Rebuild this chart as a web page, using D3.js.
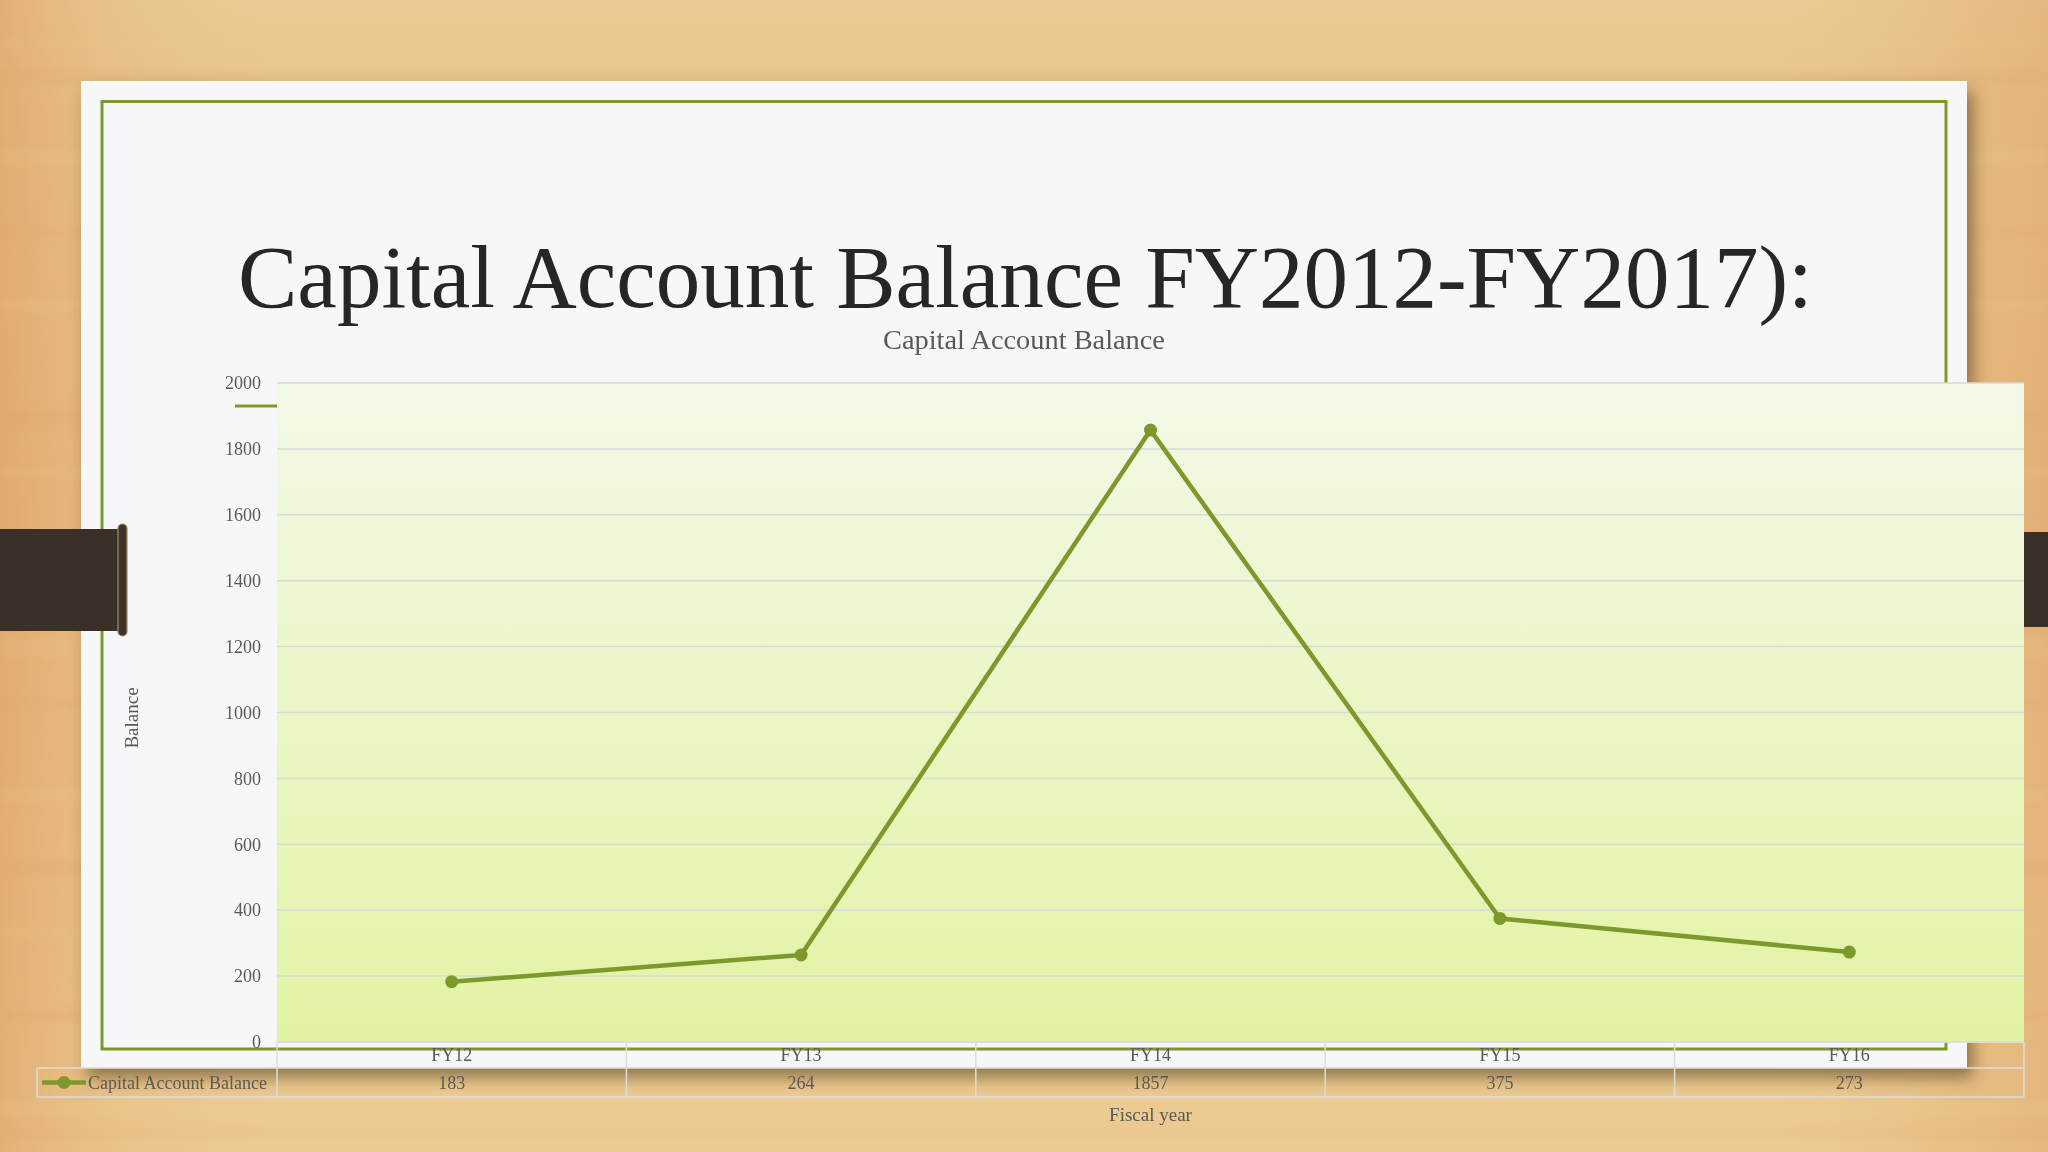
<!DOCTYPE html>
<html>
<head>
<meta charset="utf-8">
<script src="https://cdn.jsdelivr.net/npm/d3@7"></script>
<style>
html,body{margin:0;padding:0;overflow:hidden;background:#e8c58e;}
svg{display:block;}
</style>
</head>
<body>
<svg id="chart" width="2048" height="1152"></svg>
<script>
// ---- data ----
const categories = ["FY12", "FY13", "FY14", "FY15", "FY16"];
const balance = [183, 264, 1857, 375, 273];
const yTicks = [0, 200, 400, 600, 800, 1000, 1200, 1400, 1600, 1800, 2000];
const seriesName = "Capital Account Balance";
const slideTitle = "Capital Account Balance FY2012-FY2017):";
const chartTitle = "Capital Account Balance";
const yTitle = "Balance";
const xTitle = "Fiscal year";

// ---- layout ----
const W = 2048, H = 1152;
const plot = {x0: 277, x1: 2024, y0: 383, y1: 1042};
const row1 = 1068, row2 = 1097, legendX0 = 37;
const green = "#7d982b";
const serif = "'Liberation Serif','DejaVu Serif',serif";
const textGray = "#595959";

const svg = d3.select("#chart");
const defs = svg.append("defs");

// wood background gradients
const g1 = defs.append("linearGradient").attr("id","woodV").attr("x1",0).attr("y1",0).attr("x2",0).attr("y2",1);
[["0%","#eacb95"],["10%","#e7c48c"],["45%","#e8bd84"],["75%","#ebc58d"],["100%","#eccb92"]]
  .forEach(([o,c])=>g1.append("stop").attr("offset",o).attr("stop-color",c));
const g2 = defs.append("linearGradient").attr("id","woodH").attr("x1",0).attr("y1",0).attr("x2",1).attr("y2",0);
[["0%","#dc9a5c",0.55],["5%","#e2ab70",0.3],["14%","#e8c08a",0],["86%","#e8c08a",0],["95%","#e0a86c",0.3],["100%","#dca066",0.45]]
  .forEach(([o,c,a])=>g2.append("stop").attr("offset",o).attr("stop-color",c).attr("stop-opacity",a));
const plotGrad = defs.append("linearGradient").attr("id","plotG").attr("x1",0).attr("y1",0).attr("x2",0).attr("y2",1);
plotGrad.append("stop").attr("offset","0%").attr("stop-color","#f3f9e8");
plotGrad.append("stop").attr("offset","100%").attr("stop-color","#e2f3a3");
const sh = defs.append("filter").attr("id","shadow").attr("x","-5%").attr("y","-5%").attr("width","110%").attr("height","120%");
sh.append("feDropShadow").attr("dx",6).attr("dy",10).attr("stdDeviation",8).attr("flood-color","#4a3418").attr("flood-opacity",0.55);
const blur = defs.append("filter").attr("id","soft");
blur.append("feGaussianBlur").attr("stdDeviation",3);

svg.append("rect").attr("width",W).attr("height",H).attr("fill","url(#woodV)");
svg.append("rect").attr("width",W).attr("height",H).attr("fill","url(#woodH)");
// subtle wood grain streaks
const streaks = [40, 72, 150, 230, 300, 410, 470, 560, 640, 700, 790, 860, 930, 1010, 1100, 1130];
svg.append("g").attr("filter","url(#soft)").selectAll("rect").data(streaks).join("rect")
  .attr("x",0).attr("width",W).attr("y",d=>d).attr("height",(d,i)=>6+(i%3)*5)
  .attr("fill",(d,i)=> i%2 ? "#d99f62" : "#f0d3a0").attr("opacity",0.12);

// slide
svg.append("rect").attr("x",81).attr("y",81).attr("width",1886).attr("height",987)
  .attr("fill","#f7f7f9").attr("filter","url(#shadow)");
svg.append("rect").attr("x",102).attr("y",101.5).attr("width",1844)
  .attr("height",1049-101.5).attr("fill","none").attr("stroke",green).attr("stroke-width",3);

// slide title, fitted to its width
const titleEl = svg.append("text").attr("x",238).attr("y",307)
  .attr("font-family",serif).attr("font-size",100).attr("fill","#262626").text(slideTitle);
const tw = titleEl.node().getComputedTextLength();
titleEl.attr("font-size", 100*1575/tw);

// accent line peeking near the plot
svg.append("line").attr("x1",235).attr("x2",277).attr("y1",406).attr("y2",406)
  .attr("stroke",green).attr("stroke-width",3);

// binder clips
svg.append("rect").attr("x",0).attr("y",529).attr("width",124).attr("height",102).attr("fill","#3a3028");
svg.append("rect").attr("x",118).attr("y",524).attr("width",9).attr("height",112).attr("rx",4.5)
  .attr("fill","#3f342a").attr("stroke","#a08866").attr("stroke-width",1.2);
svg.append("rect").attr("x",2024).attr("y",532).attr("width",24).attr("height",95).attr("fill","#3a3028");

// chart scales
const x = d3.scaleBand().domain(categories).range([plot.x0, plot.x1]).padding(0);
const y = d3.scaleLinear().domain([0, 2000]).range([plot.y1, plot.y0]);

// chart title
const ct = svg.append("text").attr("x",1024).attr("y",349).attr("text-anchor","middle")
  .attr("font-family",serif).attr("font-size",28).attr("fill",textGray).text(chartTitle);
const cw = ct.node().getComputedTextLength();
ct.attr("font-size", 28*282/cw);

// plot area
svg.append("rect").attr("x",plot.x0).attr("y",plot.y0).attr("width",plot.x1-plot.x0).attr("height",plot.y1-plot.y0)
  .attr("fill","url(#plotG)");

// gridlines
svg.append("g").selectAll("line").data(yTicks).join("line")
  .attr("x1",plot.x0).attr("x2",plot.x1).attr("y1",d=>y(d)).attr("y2",d=>y(d))
  .attr("stroke","#d9d9d9").attr("stroke-width",1.5);

// y axis (labels only)
const yAxis = svg.append("g").attr("transform",`translate(${plot.x0 - 16},0)`)
  .call(d3.axisLeft(y).tickValues(yTicks).tickSize(0).tickPadding(0).tickFormat(d3.format("d")));
yAxis.select(".domain").remove();
yAxis.selectAll("text").attr("font-family",serif).attr("font-size",18).attr("fill",textGray);

// y title
svg.append("text").attr("transform",`translate(138,718) rotate(-90)`).attr("text-anchor","middle")
  .attr("font-family",serif).attr("font-size",19).attr("fill",textGray).text(yTitle);

// line + markers
const line = d3.line().x((d,i)=>x(categories[i])+x.bandwidth()/2).y(d=>y(d));
svg.append("path").datum(balance).attr("d",line).attr("fill","none")
  .attr("stroke",green).attr("stroke-width",4.5).attr("stroke-linejoin","round");
svg.append("g").selectAll("circle").data(balance).join("circle")
  .attr("cx",(d,i)=>x(categories[i])+x.bandwidth()/2).attr("cy",d=>y(d)).attr("r",6.5).attr("fill",green);

// data table
const tg = svg.append("g").attr("stroke","#dcdcdc").attr("stroke-width",1.5);
tg.append("line").attr("x1",plot.x0).attr("x2",plot.x1).attr("y1",plot.y1).attr("y2",plot.y1);
tg.append("line").attr("x1",legendX0).attr("x2",plot.x1).attr("y1",row1).attr("y2",row1);
tg.append("line").attr("x1",legendX0).attr("x2",plot.x1).attr("y1",row2).attr("y2",row2);
tg.append("line").attr("x1",legendX0).attr("x2",legendX0).attr("y1",row1).attr("y2",row2);
const bounds = categories.map(c=>x(c)).concat([plot.x1]);
tg.selectAll("line.v").data(bounds).join("line").attr("class","v")
  .attr("x1",d=>d).attr("x2",d=>d).attr("y1",plot.y1).attr("y2",row2);

svg.append("g").selectAll("text").data(categories).join("text")
  .attr("x",d=>x(d)+x.bandwidth()/2).attr("y",(plot.y1+row1)/2+6).attr("text-anchor","middle")
  .attr("font-family",serif).attr("font-size",18).attr("fill",textGray).text(d=>d);
svg.append("g").selectAll("text").data(balance).join("text")
  .attr("x",(d,i)=>x(categories[i])+x.bandwidth()/2).attr("y",(row1+row2)/2+6).attr("text-anchor","middle")
  .attr("font-family",serif).attr("font-size",18).attr("fill",textGray).text(d=>d);

// legend key
svg.append("line").attr("x1",42).attr("x2",86).attr("y1",(row1+row2)/2).attr("y2",(row1+row2)/2)
  .attr("stroke",green).attr("stroke-width",4.5);
svg.append("circle").attr("cx",64).attr("cy",(row1+row2)/2).attr("r",6.5).attr("fill",green);
svg.append("text").attr("x",88).attr("y",(row1+row2)/2+6).attr("font-family",serif).attr("font-size",18)
  .attr("fill",textGray).text(seriesName);

// x title
svg.append("text").attr("x",(plot.x0+plot.x1)/2).attr("y",1121).attr("text-anchor","middle")
  .attr("font-family",serif).attr("font-size",19).attr("fill",textGray).text(xTitle);
</script>
</body>
</html>
